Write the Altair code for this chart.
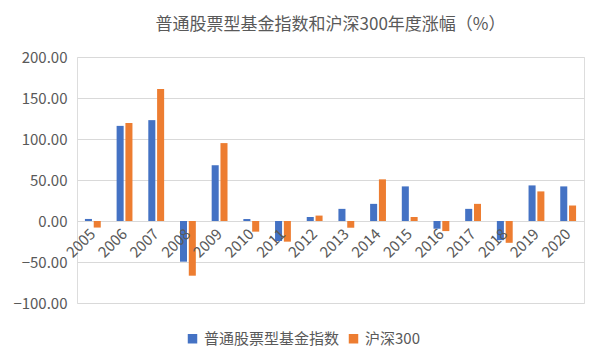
import altair as alt
import pandas as pd

years = [str(y) for y in range(2005, 2021)]
fund_index = [2.5, 116, 123, -49.6, 68, 2.4, -24.4, 4.9, 14.8, 20.9, 42.2, -9.4, 14.8, -23.4, 43.4, 42.2]
hs300 = [-8, 119.5, 161, -66.7, 95, -13, -25.2, 6.6, -8.2, 50.8, 4.9, -12.3, 20.9, -26.6, 36.1, 18.9]
series_names = ["普通股票型基金指数", "沪深300"]
colors = ["#4472C4", "#ED7D31"]

rows = []
for i, y in enumerate(years):
    rows.append({"year": y, "series": series_names[0], "value": fund_index[i]})
    rows.append({"year": y, "series": series_names[1], "value": hs300[i]})
df = pd.DataFrame(rows)

font = "Noto Sans CJK SC"
grey = "#595959"

chart = alt.Chart(df).mark_bar().encode(
    x=alt.X("year:N", sort=years, title=None,
            scale=alt.Scale(paddingInner=0.5, paddingOuter=0.25),
            axis=alt.Axis(labelAngle=-45, labelAlign="right", labelBaseline="middle",
                          offset=-82, domain=False, ticks=False, labelPadding=10,
                          labelFontSize=15, labelColor=grey, labelFont=font, zindex=1)),
    xOffset=alt.XOffset("series:N", sort=series_names, scale=alt.Scale(paddingInner=0.2)),
    y=alt.Y("value:Q", title=None,
            scale=alt.Scale(domain=[-100, 200], nice=False),
            axis=alt.Axis(values=[-100, -50, 0, 50, 100, 150, 200], format=".2f",
                          domain=False, ticks=False, labelPadding=10,
                          labelFontSize=15, labelColor=grey, labelFont=font,
                          gridColor="#D9D9D9", gridWidth=1)),
    color=alt.Color("series:N", sort=series_names,
                    scale=alt.Scale(domain=series_names, range=colors),
                    legend=alt.Legend(title=None, orient="none", direction="horizontal",
                                      legendX=108, legendY=274, symbolType="square",
                                      symbolSize=90, labelFontSize=15, labelColor=grey,
                                      labelFont=font, columnPadding=6, labelOffset=4)),
).properties(
    width=507, height=246,
    title=alt.TitleParams("普通股票型基金指数和沪深300年度涨幅（%）", fontSize=17,
                          font=font, color=grey, fontWeight="normal",
                          anchor="middle", offset=16),
    autosize=alt.AutoSizeParams(type="none"),
    padding={"left": 69, "top": 49, "right": 10, "bottom": 51},
).configure_view(stroke=None).configure(background="white")

chart.save("out.html", embed_options={"renderer": "svg", "actions": False})
